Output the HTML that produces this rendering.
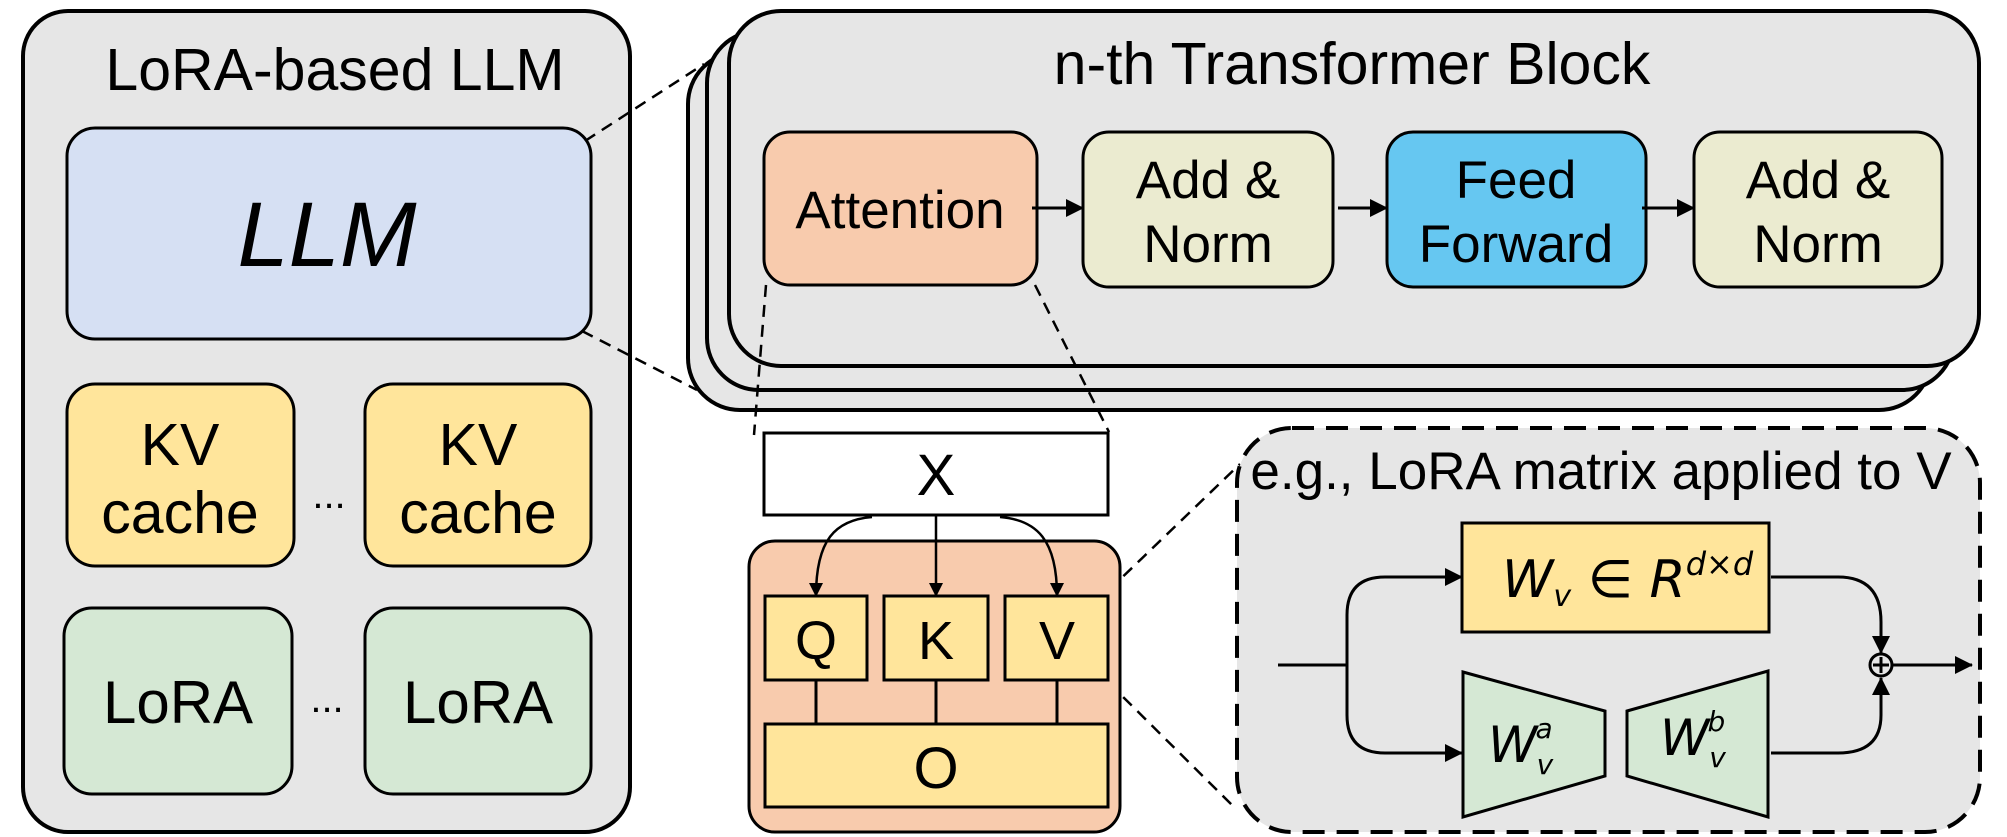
<!DOCTYPE html>
<html><head><meta charset="utf-8"><style>
html,body{margin:0;padding:0;background:#fff;}
svg{display:block;}
text{font-family:"Liberation Sans",sans-serif;fill:#000;}
.it{font-family:"DejaVu Sans",sans-serif;font-style:italic;}
</style></head><body>
<svg width="2007" height="837" viewBox="0 0 2007 837" xmlns="http://www.w3.org/2000/svg">
<defs>
<marker id="ar" markerWidth="14" markerHeight="14" refX="13" refY="7" orient="auto" markerUnits="userSpaceOnUse" viewBox="0 0 14 14">
<path d="M0,0 L14,7 L0,14 z" fill="#000"/></marker>
<marker id="ar2" markerWidth="18" markerHeight="18" refX="17" refY="9" orient="auto" markerUnits="userSpaceOnUse" viewBox="0 0 18 18">
<path d="M0,0 L18,9 L0,18 z" fill="#000"/></marker>
</defs>

<!-- Left panel -->
<rect x="23" y="11" width="607" height="821" rx="45" fill="#e6e6e6" stroke="#000" stroke-width="4"/>
<text x="335" y="90" font-size="59" text-anchor="middle">LoRA-based LLM</text>
<rect x="67" y="128" width="524" height="211" rx="28" fill="#d6e0f3" stroke="#000" stroke-width="3"/>
<text x="327" y="266" font-size="92" font-style="italic" text-anchor="middle">LLM</text>
<rect x="67" y="384" width="227" height="182" rx="28" fill="#ffe59b" stroke="#000" stroke-width="3"/>
<rect x="365" y="384" width="226" height="182" rx="28" fill="#ffe59b" stroke="#000" stroke-width="3"/>
<text x="180" y="465" font-size="59" text-anchor="middle">KV</text>
<text x="180" y="533" font-size="59" text-anchor="middle">cache</text>
<text x="478" y="465" font-size="59" text-anchor="middle">KV</text>
<text x="478" y="533" font-size="59" text-anchor="middle">cache</text>
<text x="329" y="508" font-size="40" text-anchor="middle">...</text>
<rect x="64" y="608" width="228" height="186" rx="28" fill="#d5e8d4" stroke="#000" stroke-width="3"/>
<rect x="365" y="608" width="226" height="186" rx="28" fill="#d5e8d4" stroke="#000" stroke-width="3"/>
<text x="178" y="723" font-size="60" text-anchor="middle">LoRA</text>
<text x="478" y="723" font-size="60" text-anchor="middle">LoRA</text>
<text x="327" y="712" font-size="40" text-anchor="middle">...</text>

<!-- Transformer stack -->
<rect x="688" y="52" width="1243" height="358" rx="52" fill="#e6e6e6" stroke="#000" stroke-width="4"/>
<rect x="707" y="31" width="1247" height="359" rx="52" fill="#e6e6e6" stroke="#000" stroke-width="4"/>
<rect x="729" y="11" width="1250" height="355" rx="52" fill="#e6e6e6" stroke="#000" stroke-width="4"/>
<text x="1352" y="84" font-size="59" text-anchor="middle">n-th Transformer Block</text>

<rect x="764" y="132" width="273" height="153" rx="26" fill="#f8cbad" stroke="#000" stroke-width="3"/>
<text x="900" y="228" font-size="53" text-anchor="middle">Attention</text>
<rect x="1083" y="132" width="250" height="155" rx="26" fill="#ebebd0" stroke="#000" stroke-width="3"/>
<text x="1208" y="198" font-size="53" text-anchor="middle">Add &amp;</text>
<text x="1208" y="262" font-size="53" text-anchor="middle">Norm</text>
<rect x="1387" y="132" width="259" height="155" rx="26" fill="#66c7f1" stroke="#000" stroke-width="3"/>
<text x="1516" y="198" font-size="53" text-anchor="middle">Feed</text>
<text x="1516" y="262" font-size="53" text-anchor="middle">Forward</text>
<rect x="1694" y="132" width="248" height="155" rx="26" fill="#ebebd0" stroke="#000" stroke-width="3"/>
<text x="1818" y="198" font-size="53" text-anchor="middle">Add &amp;</text>
<text x="1818" y="262" font-size="53" text-anchor="middle">Norm</text>
<line x1="1032" y1="208" x2="1083" y2="208" stroke="#000" stroke-width="3" marker-end="url(#ar2)"/>
<line x1="1338" y1="208" x2="1387" y2="208" stroke="#000" stroke-width="3" marker-end="url(#ar2)"/>
<line x1="1642" y1="208" x2="1694" y2="208" stroke="#000" stroke-width="3" marker-end="url(#ar2)"/>

<!-- dashed connectors -->
<g stroke="#000" stroke-width="2.5" stroke-dasharray="12,8" fill="none">
<line x1="585" y1="141" x2="704" y2="64"/>
<line x1="582" y1="331" x2="697" y2="390"/>
<line x1="766" y1="285" x2="754" y2="435"/>
<line x1="1035" y1="285" x2="1109" y2="432"/>
<line x1="1109" y1="590" x2="1240" y2="464"/>
<line x1="1109" y1="683" x2="1233" y2="806"/>
</g>

<!-- X and attention detail -->
<rect x="764" y="433" width="344" height="82" fill="#fff" stroke="#000" stroke-width="3"/>
<text x="936" y="495" font-size="58" text-anchor="middle">X</text>
<rect x="749" y="541" width="371" height="291" rx="26" fill="#f8cbad" stroke="#000" stroke-width="3"/>
<line x1="816" y1="680" x2="816" y2="725" stroke="#000" stroke-width="3"/>
<line x1="936" y1="680" x2="936" y2="725" stroke="#000" stroke-width="3"/>
<line x1="1057" y1="680" x2="1057" y2="725" stroke="#000" stroke-width="3"/>
<rect x="765" y="596" width="102" height="84" fill="#ffe59b" stroke="#000" stroke-width="3"/>
<rect x="884" y="596" width="104" height="84" fill="#ffe59b" stroke="#000" stroke-width="3"/>
<rect x="1005" y="596" width="103" height="84" fill="#ffe59b" stroke="#000" stroke-width="3"/>
<rect x="765" y="724" width="343" height="83" fill="#ffe59b" stroke="#000" stroke-width="3"/>
<text x="816" y="659" font-size="54" text-anchor="middle">Q</text>
<text x="936" y="659" font-size="54" text-anchor="middle">K</text>
<text x="1057" y="659" font-size="54" text-anchor="middle">V</text>
<text x="936" y="788" font-size="58" text-anchor="middle">O</text>
<g stroke="#000" stroke-width="2.5" fill="none">
<line x1="936" y1="515" x2="936" y2="596" marker-end="url(#ar)"/>
<path d="M872,517 C835,520 816,540 816,596" marker-end="url(#ar)"/>
<path d="M1000,517 C1037,520 1057,540 1057,596" marker-end="url(#ar)"/>
</g>

<!-- LoRA applied panel -->
<rect x="1237" y="428" width="743" height="404" rx="55" fill="#e6e6e6" stroke="#000" stroke-width="4" stroke-dasharray="22,12"/>
<text x="1601" y="489" font-size="53" text-anchor="middle">e.g., LoRA matrix applied to V</text>
<rect x="1462" y="523" width="307" height="109" fill="#ffe59b" stroke="#000" stroke-width="3"/>
<text class="it" x="1502" y="597" font-size="52">W<tspan font-size="30" dy="9">v</tspan><tspan dy="-9" font-style="normal"> ∈ </tspan>R<tspan font-size="32" dy="-22">d×d</tspan></text>
<polygon points="1463,672 1605,711 1605,776 1463,817" fill="#d5e8d4" stroke="#000" stroke-width="3"/>
<polygon points="1627,711 1768,671 1768,817 1627,776" fill="#d5e8d4" stroke="#000" stroke-width="3"/>
<text class="it" x="1488" y="762" font-size="50">W<tspan font-size="28" dx="-2" dy="-24">a</tspan><tspan font-size="28" dx="-16" dy="36">v</tspan></text>
<text class="it" x="1660" y="755" font-size="50">W<tspan font-size="28" dx="-2" dy="-24">b</tspan><tspan font-size="28" dx="-16" dy="36">v</tspan></text>
<g stroke="#000" stroke-width="3" fill="none">
<line x1="1278" y1="665" x2="1347" y2="665"/>
<path d="M1347,665 L1347,615 Q1347,577 1385,577 L1462,577" marker-end="url(#ar2)"/>
<path d="M1347,665 L1347,715 Q1347,753 1385,753 L1462,753" marker-end="url(#ar2)"/>
<path d="M1771,577 L1838,577 Q1881,577 1881,622 L1881,653" marker-end="url(#ar2)"/>
<path d="M1771,753 L1838,753 Q1881,753 1881,715 L1881,678" marker-end="url(#ar2)"/>
<line x1="1893" y1="665" x2="1972" y2="665" marker-end="url(#ar2)"/>
<circle cx="1881" cy="665" r="11" fill="#e6e6e6"/>
<line x1="1873" y1="665" x2="1889" y2="665"/>
<line x1="1881" y1="657" x2="1881" y2="673"/>
</g>
</svg>
</body></html>
